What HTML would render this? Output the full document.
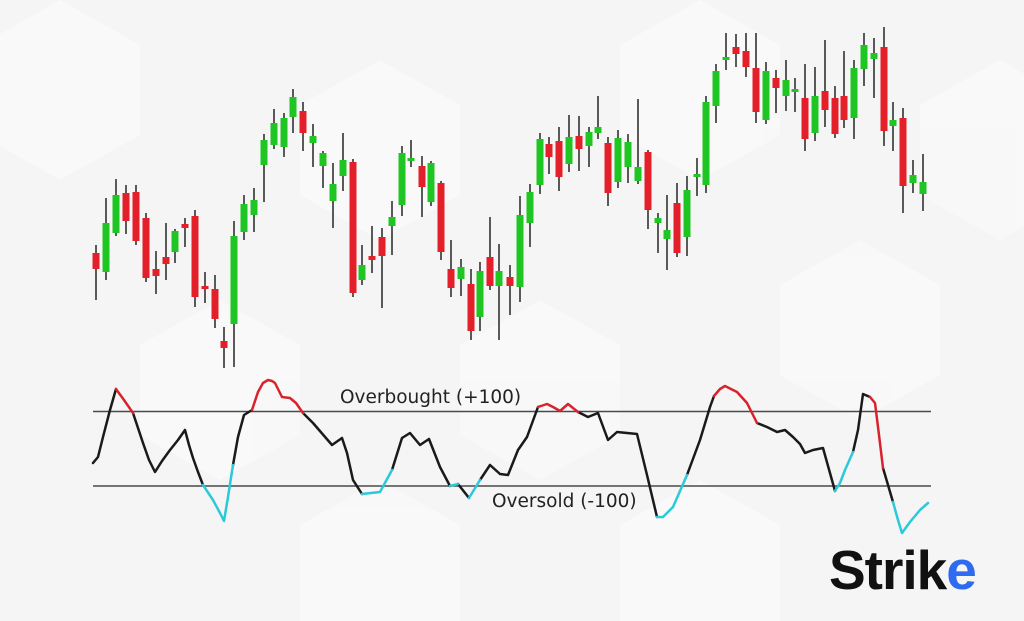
<!DOCTYPE html>
<html><head><meta charset="utf-8"><style>
html,body{margin:0;padding:0;width:1024px;height:621px;overflow:hidden;background:#f5f5f5;}
svg{display:block;}
</style></head><body>
<svg width="1024" height="621" viewBox="0 0 1024 621" xmlns="http://www.w3.org/2000/svg">
<rect width="1024" height="621" fill="#f5f5f5"/>
<g fill="#fbfbfb" opacity="0.6">
<polygon points="60,0 140,45 140,135 60,180 0,146 0,34"/>
<polygon points="380,60 460,105 460,195 380,240 300,195 300,105"/>
<polygon points="700,0 780,45 780,135 700,180 620,135 620,45"/>
<polygon points="220,300 300,345 300,435 220,480 140,435 140,345"/>
<polygon points="540,300 620,345 620,435 540,480 460,435 460,345"/>
<polygon points="860,240 940,285 940,375 860,420 780,375 780,285"/>
<polygon points="380,480 460,525 460,621 300,621 300,525"/>
<polygon points="700,480 780,525 780,621 620,621 620,525"/>
<polygon points="1000,60 1024,74 1024,226 1000,240 920,195 920,105"/>
</g>

<path fill="none" stroke="#333" stroke-width="1.6" d="M96 245V300M106 198V280M116 179V236M126 185V234M136 185V245M146 213V282M156 251V294M166 223V280M175 229V263M185 218V247M195 210V307M205 272V303M215 275V328M224 327V368M234 221V367M244 195V240M254 188V232M264 134V202M274 109V149M284 113V157M293 89V133M303 102V151M313 124V167M323 151V188M333 163V228M343 133V191M353 159V297M362 245V285M372 226V273M382 228V308M392 201V255M402 146V216M411 140V167M422 156V217M431 161V206M441 181V260M451 240V297M461 259V296M471 269V340M480 262V331M490 217V290M499 244V340M510 265V315M520 196V302M530 184V247M540 133V194M549 137V174M559 127V191M569 115V172M579 116V171M589 127V167M598 96V139M608 137V206M618 130V188M628 134V183M638 99V184M648 150V229M658 213V253M667 195V270M677 183V257M687 176V256M697 158V196M706 96V193M716 64V123M726 33V70M736 34V67M746 33V77M756 33V123M766 62V124M776 70V113M786 60V111M795 78V112M805 64V151M815 67V141M825 40V127M835 86V138M844 51V128M854 60V139M864 33V86M874 38V98M884 27V146M893 102V151M903 108V213M913 160V193M923 154V211"/>

<path fill="none" stroke="#e3202a" stroke-width="7" d="M96 253V269M126 193V221M136 192V241M146 218V278M156 269V276M166 257V264M185 224V228M195 216V297M205 286V289M215 289V319M224 341V348M303 111V133M353 162V293M372 256V260M382 237V256M422 166V187M441 183V252M451 269V288M471 284V331M490 257V286M510 277V286M549 144V157M559 141V177M579 136V149M608 143V193M648 152V210M677 203V253M736 47V54M746 51V67M756 68V112M776 78V88M805 98V139M825 91V110M835 98V134M844 96V120M884 47V131M903 118V186"/>

<path fill="none" stroke="#1fc623" stroke-width="7" d="M106 223V272M116 195V233M175 231V252M234 236V324M244 204V232M254 200V215M264 140V165M274 123V145M284 118V147M293 97V117M313 136V143M323 153V166M333 184V201M343 160V176M362 265V280M392 217V226M402 153V205M411 158V161M431 163V202M461 267V279M480 271V317M499 271V286M520 215V287M530 192V223M540 139V185M569 137V164M589 132V146M598 127V133M618 138V182M628 142V167M638 167V181M658 218V223M667 230V239M687 190V237M697 174V177M706 102V185M716 71V106M726 57V60M766 71V120M786 80V96M795 89V92M815 96V133M854 68V118M864 45V69M874 53V59M893 120V126M913 175V183M923 182V194"/>

<path fill="none" stroke="#4a4a4a" stroke-width="1.6" d="M93 411.5H931M93 486H931"/>

<g fill="none" stroke-width="2.5" stroke-linejoin="round" stroke-linecap="round">
<path stroke="#1a1a1a" d="M93 463L98 457L103 437L110 410L116 389M133 413L138 428L143 443L149 460L155 472L162 461L170 450L178 440L185 430L189 445L193 458L198 472L203 485M233 465L238 437L244 415L252 410M303 413L313 423L332 445L342 438L347 453L353 480L362 494M392 470L402 438L410 433L420 445L429 439L440 467L450 486M458 484L469 498M480 480L490 465L500 474L508 475L518 450L527 437L538 407M578 412L588 417L598 413L608 440L617 432L627 433L637 434L647 475L657 517M687 475L700 440L710 407L714 396M757 423L767 427L777 432L785 430L793 437L800 444L805 453L813 450L823 448L835 491M853 452L858 430L863 394L870 397M883 468L888 485L893 502"/>
<path stroke="#d9232c" d="M116 389L124 400L133 413M252 410L258 392L263 383L268 380L272 381L275 383L282 397L290 398L296 403L303 413M538 407L547 404L553 407L560 411L568 404L578 412M714 396L720 389L725 386L737 392L747 403L757 423M870 397L875 403L879 435L883 468"/>
<path stroke="#2cc9d8" d="M203 485L213 500L220 513L224 521L228 497L233 465M362 494L380 492L392 470M450 486L458 484M469 498L480 480M657 517L663 517L673 507L687 475M835 491L840 483L845 470L853 452M893 502L898 520L902 533L910 522L920 510L928 503"/>
</g>

<text x="340" y="403" font-family="'DejaVu Sans', sans-serif" font-size="18.5" fill="#222">Overbought (+100)</text>
<text x="492" y="507" font-family="'DejaVu Sans', sans-serif" font-size="18.5" fill="#222">Oversold (-100)</text>
<text x="829" y="589" font-family="'Liberation Sans', sans-serif" font-weight="bold" font-size="55" letter-spacing="-1" fill="#111">Strik<tspan fill="#2f6bf0">e</tspan></text>
</svg>
</body></html>
